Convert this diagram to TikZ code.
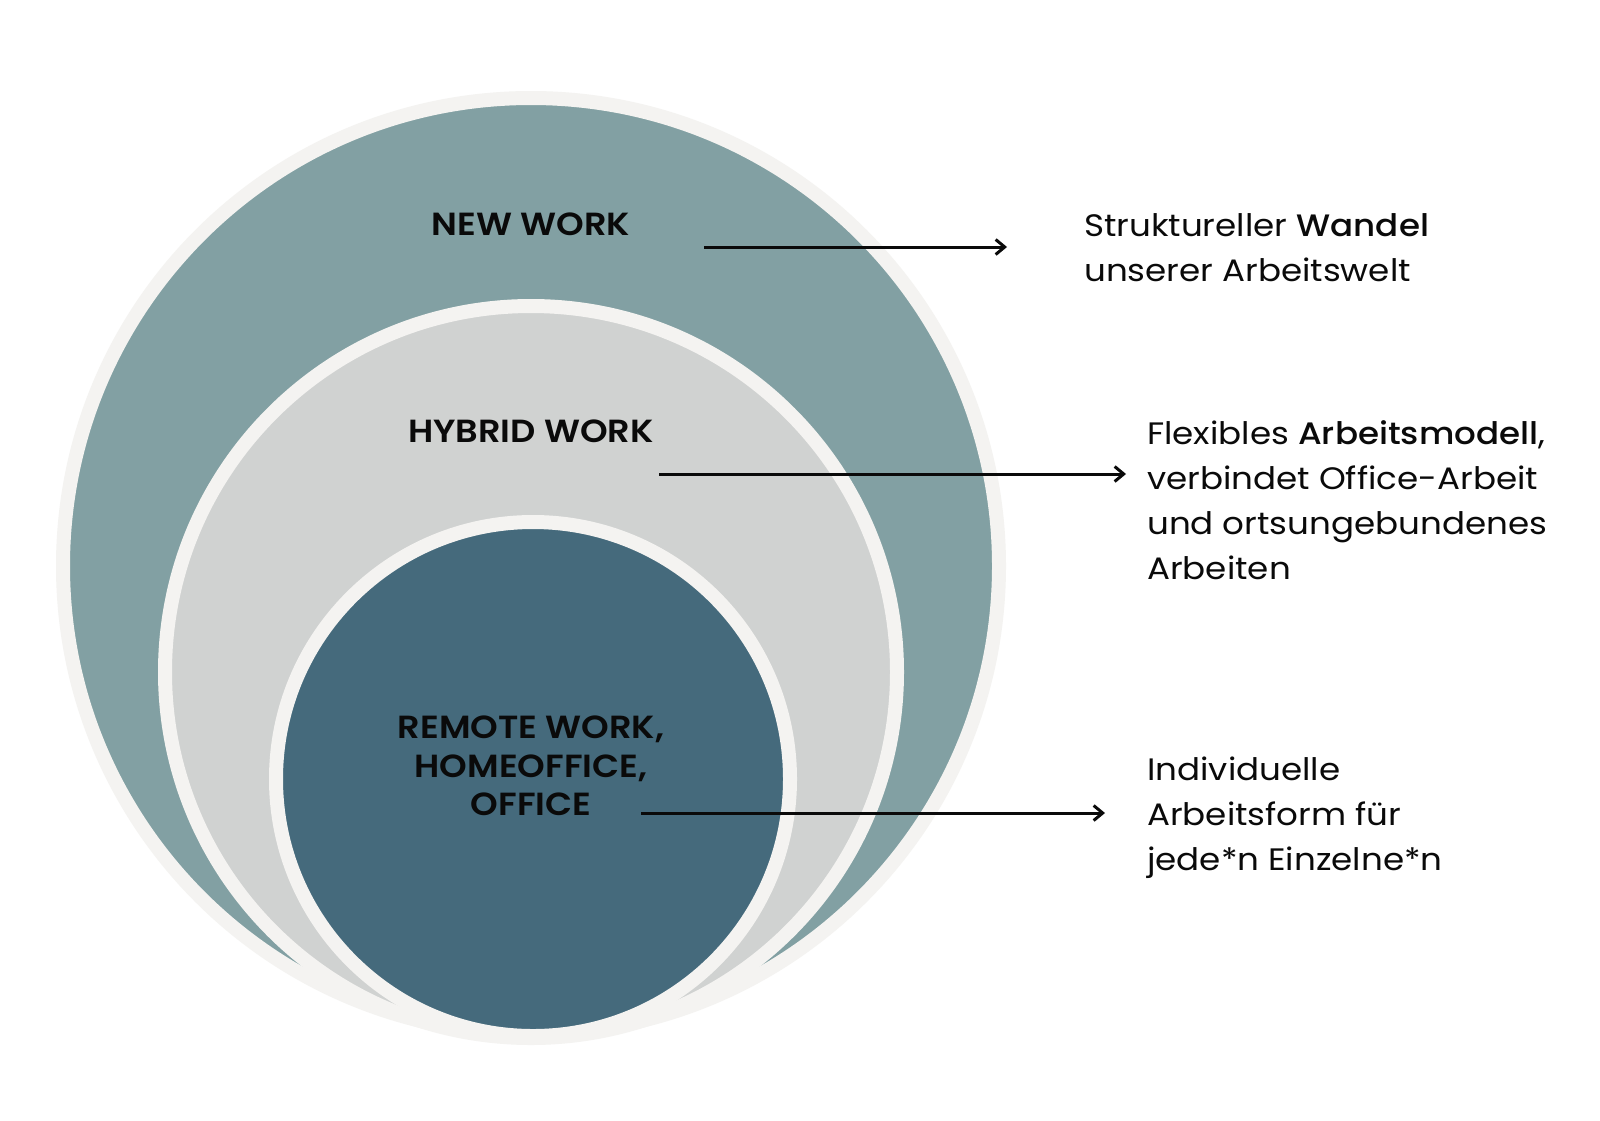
\documentclass[tikz,border=0pt]{standalone}
\usepackage{fontspec}
\setmainfont{Poppins}[FakeStretch=1.1]
\newfontfamily\popmed{Poppins}[UprightFont={* Medium}, FakeStretch=1.1]
\newfontfamily\popsemi{Poppins}[UprightFont={* SemiBold}, FakeStretch=1.1]
\usetikzlibrary{arrows.meta}
\definecolor{ringc}{HTML}{F4F3F1}
\definecolor{outerc}{HTML}{82A0A3}
\definecolor{midc}{HTML}{D0D2D1}
\definecolor{innerc}{HTML}{456A7C}
\definecolor{inkc}{HTML}{0A0A0A}
\tikzset{
  ring/.style={draw=ringc, line width=14pt},
  lbl/.style={font=\fontsize{32}{38.5}\selectfont\popsemi, text=inkc, align=center, inner sep=0pt},
  desc/.style={font=\fontsize{31}{45}\selectfont, text=inkc, align=left, inner sep=0pt, anchor=base west},
  pointer/.style={draw=inkc, line width=3pt, -{Straight Barb[length=9pt,width=15pt,line width=3pt]}},
}
\begin{document}
\begin{tikzpicture}[x=1pt,y=-1pt]
\useasboundingbox[fill=white] (0,0) rectangle (1600,1120);
% circles
\fill[outerc, ring] (531,566) circle[radius=468];
\fill[midc, ring] (531,672) circle[radius=366];
\fill[innerc, ring] (533,779) circle[radius=257];
% labels
\node[lbl] (newwork) at (531,224) {NEW WORK};
\node[lbl] (hybrid) at (531,431) {HYBRID WORK};
\node[lbl] (remote) at (531,766) {REMOTE WORK,\\HOMEOFFICE,\\OFFICE};
% descriptions (anchor at baseline of last line)
\node[desc] (d1) at (1084,281) {Struktureller {\popmed Wandel}\\unserer Arbeitswelt};
\node[desc] (d2) at (1147,579) {Flexibles {\popmed Arbeitsmodell},\\verbindet Office-Arbeit\\und ortsungebundenes\\Arbeiten};
\node[desc] (d3) at (1147,870) {Individuelle\\Arbeitsform für\\jede*n Einzelne*n};
% connectors
\coordinate (a1s) at (704,247);
\coordinate (a1e) at (1007,247);
\coordinate (a2s) at (659,474);
\coordinate (a2e) at (1126,474);
\coordinate (a3s) at (641,813);
\coordinate (a3e) at (1105,813);
\draw[pointer] (a1s) -- (a1e);
\draw[pointer] (a2s) -- (a2e);
\draw[pointer] (a3s) -- (a3e);
\end{tikzpicture}
\end{document}
